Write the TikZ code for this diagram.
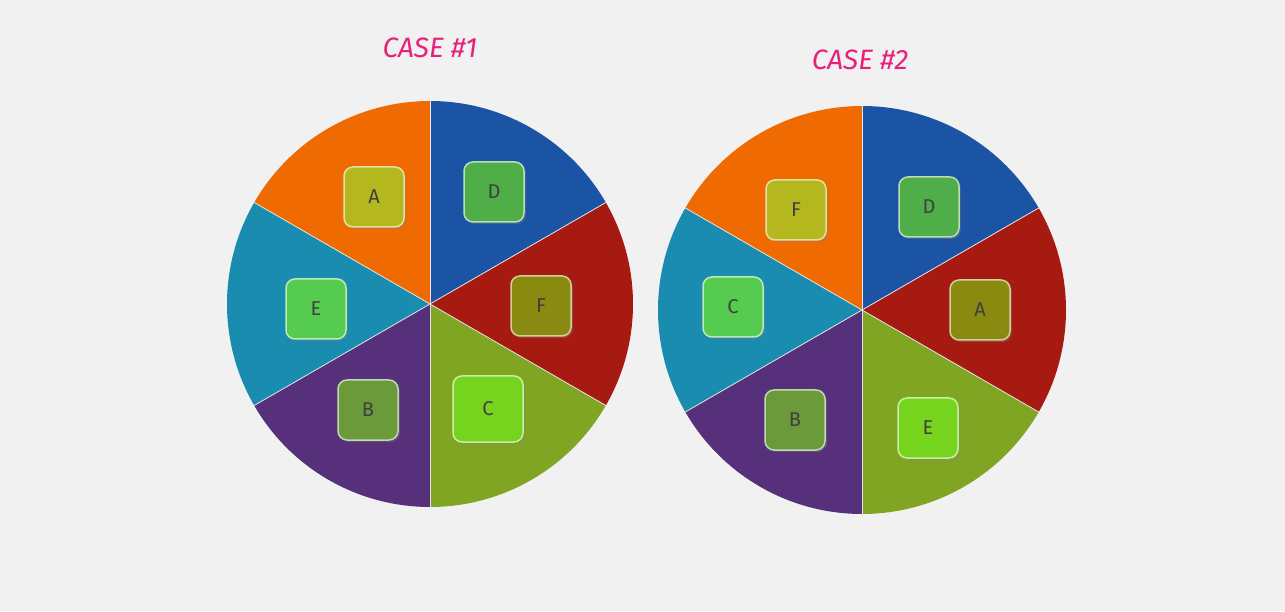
\documentclass[tikz,border=0pt]{standalone}
\usepackage{fontspec}
\setmainfont{Fira Sans}
\usetikzlibrary{shadows}
\definecolor{bg}{HTML}{F2F1F1}
\definecolor{cOr}{HTML}{EF6A00}
\definecolor{cBl}{HTML}{1B54A4}
\definecolor{cRd}{HTML}{A71A12}
\definecolor{cOl}{HTML}{7FA523}
\definecolor{cPu}{HTML}{56307A}
\definecolor{cTe}{HTML}{1A8CB0}
\definecolor{bY}{HTML}{B4B81E}
\definecolor{bD}{HTML}{4FAE48}
\definecolor{bF}{HTML}{8A8A10}
\definecolor{bC}{HTML}{77D41E}
\definecolor{bB}{HTML}{6A9A3A}
\definecolor{bE}{HTML}{55CC50}
\definecolor{pink}{HTML}{E8207A}
\tikzset{
 tile/.style={draw=white!60!#1, line width=1.5pt, fill=#1, rounded corners=9pt,
   minimum width=60pt, minimum height=60pt, inner sep=0pt,
   font=\fontsize{20}{24}\selectfont, text=black!75,
   drop shadow={shadow xshift=2pt, shadow yshift=-2pt, opacity=0.35}},
 title/.style={text=pink, font=\fontsize{28}{32}\selectfont\itshape}
}
\newcommand{\mypie}[3]{%
 \fill[cBl] (#1,#2) -- ++(90:#3) arc (90:30:#3) -- cycle;
 \fill[cRd] (#1,#2) -- ++(30:#3) arc (30:-30:#3) -- cycle;
 \fill[cOl] (#1,#2) -- ++(-30:#3) arc (-30:-90:#3) -- cycle;
 \fill[cPu] (#1,#2) -- ++(-90:#3) arc (-90:-150:#3) -- cycle;
 \fill[cTe] (#1,#2) -- ++(-150:#3) arc (-150:-210:#3) -- cycle;
 \fill[cOr] (#1,#2) -- ++(150:#3) arc (150:90:#3) -- cycle;
 \foreach \a in {90,30,-30,-90,-150,150} \draw[white!80!gray, line width=0.8pt] (#1,#2) -- ++(\a:#3);
}
\begin{document}
\begin{tikzpicture}[x=1pt,y=1pt]
\fill[bg] (0,0) rectangle (1285,611);
\useasboundingbox (0,0) rectangle (1285,611);
\mypie{430}{307}{203}
\mypie{862}{301}{204}
\node[title] (t1) at (430,563) {CASE \#1};
\node[title] (t2) at (860,551) {CASE \#2};
\node[tile=bY] (a1) at (374,414) {A};
\node[tile=bD] (d1) at (494,419) {D};
\node[tile=bF] (f1) at (541,305) {F};
\node[tile=bC, minimum width=70pt, minimum height=66pt] (c1) at (488,202) {C};
\node[tile=bB] (b1) at (368,201) {B};
\node[tile=bE] (e1) at (316,302) {E};
\node[tile=bY] (f2) at (796,401) {F};
\node[tile=bD] (d2) at (929,404) {D};
\node[tile=bF] (a2) at (980,301) {A};
\node[tile=bC] (e2) at (928,183) {E};
\node[tile=bB] (b2) at (795,191) {B};
\node[tile=bE] (c2) at (733,304) {C};
\end{tikzpicture}
\end{document}
